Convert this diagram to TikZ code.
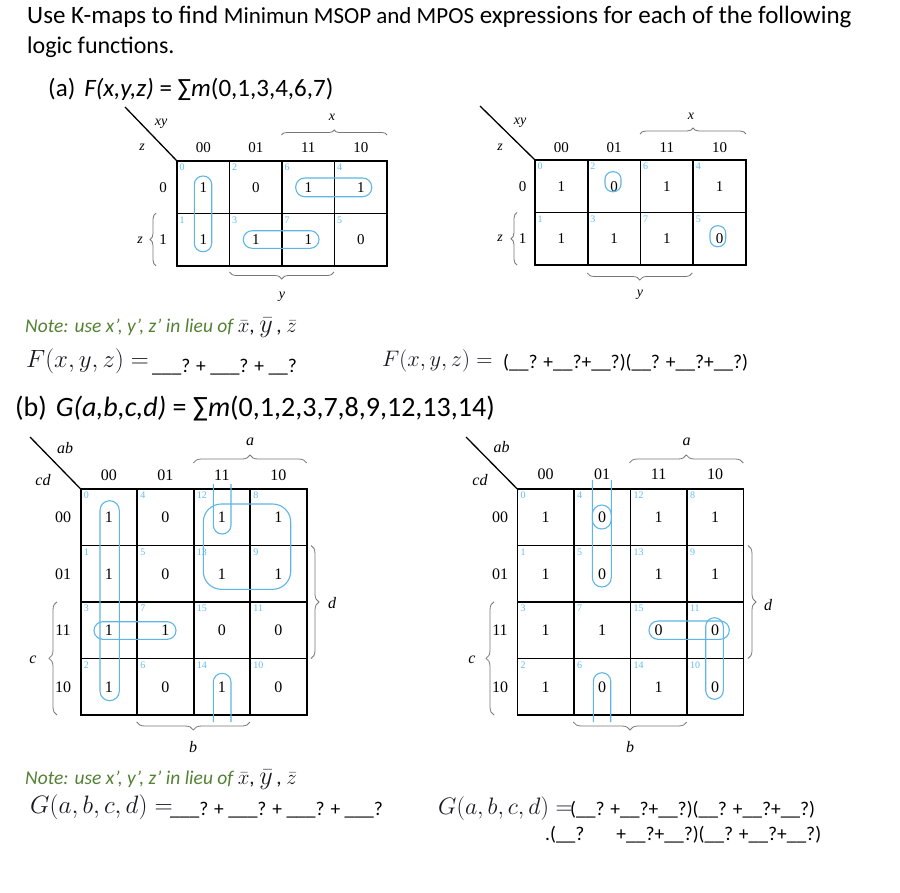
\RequirePackage{fix-cm}
\documentclass[tikz,border=0pt]{standalone}
\usepackage{fontspec}
\setmainfont{Liberation Serif}
\newfontfamily\calib{Carlito}
\usetikzlibrary{decorations.pathreplacing}
\definecolor{kblue}{RGB}{95,182,230}
\definecolor{idxblue}{RGB}{100,190,240}
\definecolor{notegreen}{RGB}{84,130,53}
\definecolor{bracegray}{RGB}{120,120,120}
\definecolor{mathink}{RGB}{25,25,35}
\tikzset{
  gridln/.style={line width=1.6pt},
  diagln/.style={line width=1.3pt},
  grp/.style={draw=kblue, line width=1.1pt},
  valA/.style={font=\fontsize{15}{15}\selectfont, inner sep=0pt},
  valB/.style={font=\fontsize{16}{16}\selectfont, inner sep=0pt},
  idx/.style={text=idxblue, font=\fontsize{10}{10}\selectfont, inner sep=0pt, anchor=north west},
  varA/.style={font=\itshape\fontsize{14}{14}\selectfont, inner sep=0pt},
  varB/.style={font=\itshape\fontsize{16}{16}\selectfont, inner sep=0pt},
  brc/.style={draw=bracegray, line width=0.8pt, decorate, decoration={brace, amplitude=#1}},
  txt/.style={font=\calib\fontsize{25}{25}\selectfont, inner sep=0pt, anchor=base west},
  notetxt/.style={font=\calib\itshape\fontsize{19.5}{19.5}\selectfont, text=notegreen, inner sep=0pt, anchor=base west},
  mathtxt/.style={font=\fontsize{24.9}{24.9}\selectfont, text=mathink, inner sep=0pt, anchor=base west},
  blank/.style={font=\calib\fontsize{19.5}{19.5}\selectfont, inner sep=0pt, anchor=base west},
}
\newcommand\barpart{{\color{mathink}\upshape\fontsize{21}{21}\selectfont$\bar{x}$, \scalebox{1.25}{$\bar{y}$}\,, $\bar{z}$}}
\begin{document}
\begin{tikzpicture}[x=1pt,y=-1pt]
\useasboundingbox (0,0) rectangle (900,892);
\fill[white] (0,0) rectangle (900,892);
% ---------------- header texts ----------------
\node[txt] (t1) at (27,23) {Use K-maps to find {\fontsize{23}{23}\selectfont Minimun MSOP and MPOS} expressions for each of the following};
\node[txt, font=\calib\fontsize{24}{24}\selectfont] (t2) at (27,53) {logic functions.};
\node[txt] (t3) at (48,96) {(a)\hspace{9pt}{\itshape F(x,y,z)} = \char"2211{\itshape m}(0,1,3,4,6,7)};
% ---------------- Map A1 ----------------
\def\mx{177}\def\my{161}\def\mw{52.5}\def\mh{52.4}
\draw[gridln] (\mx,\my) rectangle ({\mx+4*\mw},{\my+2*\mh});
\foreach \i in {1,2,3} \draw[gridln] ({\mx+\i*\mw},\my) -- ({\mx+\i*\mw},{\my+2*\mh});
\draw[gridln] (\mx,{\my+\mh}) -- ({\mx+4*\mw},{\my+\mh});
\foreach \t [count=\k from 0] in {00,01,11,10} \node[valA] (A1h\k) at ({\mx+(\k+0.5)*\mw},148) {\t};
\node[valA] (A1r0) at (163,{\my+0.5*\mh}) {0};
\node[valA] (A1r1) at (163,{\my+1.5*\mh}) {1};
\foreach \r/\c/\n/\v in {0/0/0/1,0/1/2/0,0/2/6/1,0/3/4/1,1/0/1/1,1/1/3/1,1/2/7/1,1/3/5/0}{
  \node[valA] (A1v\n) at ({\mx+(\c+0.5)*\mw},{\my+(\r+0.5)*\mh}) {\v};
  \node[idx] (A1i\n) at ({\mx+\c*\mw+2.5},{\my+\r*\mh+3}) {\n};
}
\coordinate (A1d) at (125,107);
\coordinate (A1c) at (\mx,\my);
\draw[diagln] (A1d) -- (A1c);
\node[varA] (A1xy) at (161,124) {xy};
\node[varA] (A1z) at (142,147) {z};
\draw[brc=5pt] (281.5,135) -- (387,135);
\node[varA] (A1x) at (332,117) {x};
\draw[brc=6pt] (156,265.8) -- (156,213.2);
\node[varA] (A1zz) at (140,240) {z};
\draw[brc=7pt] (334,272) -- (229.5,272);
\node[varA] (A1y) at (282,297) {y};
\draw[grp, rounded corners=8.5pt] (194.3,176) rectangle (211.7,251.7);
\draw[grp, rounded corners=9pt] (295.7,178) rectangle (371.7,196.7);
\draw[grp, rounded corners=8.8pt] (243.3,230.7) rectangle (319,248.3);
% ---------------- Map A2 ----------------
\def\mx{535}\def\my{160}\def\mw{52.75}\def\mh{52.5}
\draw[gridln] (\mx,\my) rectangle ({\mx+4*\mw},{\my+2*\mh});
\foreach \i in {1,2,3} \draw[gridln] ({\mx+\i*\mw},\my) -- ({\mx+\i*\mw},{\my+2*\mh});
\draw[gridln] (\mx,{\my+\mh}) -- ({\mx+4*\mw},{\my+\mh});
\foreach \t [count=\k from 0] in {00,01,11,10} \node[valA] (A2h\k) at ({\mx+(\k+0.5)*\mw},148) {\t};
\node[valA] (A2r0) at (522.7,{\my+0.5*\mh}) {0};
\node[valA] (A2r1) at (522.7,{\my+1.5*\mh}) {1};
\foreach \r/\c/\n/\v in {0/0/0/1,0/1/2/0,0/2/6/1,0/3/4/1,1/0/1/1,1/1/3/1,1/2/7/1,1/3/5/0}{
  \node[valA] (A2v\n) at ({\mx+(\c+0.5)*\mw},{\my+(\r+0.5)*\mh}) {\v};
  \node[idx] (A2i\n) at ({\mx+\c*\mw+2.5},{\my+\r*\mh+3}) {\n};
}
\coordinate (A2d) at (480,106);
\coordinate (A2c) at (\mx,\my);
\draw[diagln] (A2d) -- (A2c);
\node[varA] (A2xy) at (520,123) {xy};
\node[varA] (A2z) at (500,147) {z};
\draw[brc=6pt] (640,134) -- (746,134);
\node[varA] (A2x) at (691,116) {x};
\draw[brc=6pt] (517,265) -- (517,212.5);
\node[varA] (A2zz) at (500,238) {z};
\draw[brc=7pt] (692.3,273) -- (587.3,273);
\node[varA] (A2y) at (640,295) {y};
\draw[grp, rounded corners=7.5pt] (605,171.7) rectangle (621,191.7);
\draw[grp, rounded corners=7.5pt] (710,225.7) rectangle (725.7,246.7);
% ---------------- notes / answers (a) ----------------
\node[notetxt] (n1) at (25,332) {Note: use x’, y’, z’ in lieu of \barpart};
\node[mathtxt] (f1) at (26,367) {$F(x,y,z) =$};
\node[blank] (f1b) at (152,372) {\_\_\_? + \_\_\_? + \_\_?};
\node[mathtxt, font=\fontsize{22.4}{22.4}\selectfont] (f2) at (382,366) {$F(x,y,z) =$};
\node[blank] (f2b) at (503,368) {(\_\_? +\_\_?+\_\_?)(\_\_? +\_\_?+\_\_?)};
% ---------------- (b) heading ----------------
\node[txt, font=\calib\fontsize{28}{28}\selectfont] (t4) at (15,416) {(b)\hspace{9pt}{\itshape G(a,b,c,d)} = \char"2211{\itshape m}(0,1,2,3,7,8,9,12,13,14)};
% ---------------- Map B1 ----------------
\def\mx{80.7}\def\my{489}\def\mw{56.5}\def\mh{56.5}
\draw[gridln] (\mx,\my) rectangle ({\mx+4*\mw},{\my+4*\mh});
\foreach \i in {1,2,3} {
  \draw[gridln] ({\mx+\i*\mw},\my) -- ({\mx+\i*\mw},{\my+4*\mh});
  \draw[gridln] (\mx,{\my+\i*\mh}) -- ({\mx+4*\mw},{\my+\i*\mh});
}
\foreach \t [count=\k from 0] in {00,01,11,10} {
  \node[valB] (B1h\k) at ({\mx+(\k+0.5)*\mw},475) {\t};
  \node[valB] (B1r\k) at (63,{\my+(\k+0.5)*\mh}) {\t};
}
\foreach \r/\c/\n/\v in {0/0/0/1,0/1/4/0,0/2/12/1,0/3/8/1,
                        1/0/1/1,1/1/5/0,1/2/13/1,1/3/9/1,
                        2/0/3/1,2/1/7/1,2/2/15/0,2/3/11/0,
                        3/0/2/1,3/1/6/0,3/2/14/1,3/3/10/0}{
  \node[valB] (B1v\n) at ({\mx+(\c+0.5)*\mw},{\my+(\r+0.5)*\mh}) {\v};
  \node[idx] (B1i\n) at ({\mx+\c*\mw+3},{\my+\r*\mh+3}) {\n};
}
\coordinate (B1d) at (30,437);
\coordinate (B1c) at (\mx,\my);
\draw[diagln] (B1d) -- (B1c);
\node[varB] (B1ab) at (65,448) {ab};
\node[varB] (B1cd) at (43,480) {cd};
\draw[brc=8pt] (193.3,463) -- (306.7,463);
\node[varB] (B1a) at (250,442) {a};
\draw[brc=8pt] (311,545.5) -- (311,658.5);
\node[varB] (B1dd) at (332,603) {d};
\draw[brc=8pt] (57,715) -- (57,601.75);
\node[varB] (B1cc) at (33,660) {c};
\draw[brc=8pt] (250,722) -- (136.7,722);
\node[varB] (B1b) at (193,747) {b};
\draw[grp, rounded corners=9.6pt] (100,500.7) rectangle (119.3,700.7);
\draw[grp, rounded corners=8.8pt] (94,621.7) rectangle (176,639.3);
\draw[grp, rounded corners=18pt] (203.3,504) rectangle (290.7,589.3);
\draw[grp, rounded corners=8.8pt] (213.3,484) -- (213.3,534) -- (231,534) -- (231,484);
\draw[grp, rounded corners=8.8pt] (213.3,722) -- (213.3,673.3) -- (231,673.3) -- (231,722);
% ---------------- Map B2 ----------------
\def\mx{517.3}\def\my{489}\def\mw{56.5}\def\mh{56.5}
\draw[gridln] (\mx,\my) rectangle ({\mx+4*\mw},{\my+4*\mh});
\foreach \i in {1,2,3} {
  \draw[gridln] ({\mx+\i*\mw},\my) -- ({\mx+\i*\mw},{\my+4*\mh});
  \draw[gridln] (\mx,{\my+\i*\mh}) -- ({\mx+4*\mw},{\my+\i*\mh});
}
\foreach \t [count=\k from 0] in {00,01,11,10} {
  \node[valB] (B2h\k) at ({\mx+(\k+0.5)*\mw},474) {\t};
  \node[valB] (B2r\k) at (500,{\my+(\k+0.5)*\mh}) {\t};
}
\foreach \r/\c/\n/\v in {0/0/0/1,0/1/4/0,0/2/12/1,0/3/8/1,
                        1/0/1/1,1/1/5/0,1/2/13/1,1/3/9/1,
                        2/0/3/1,2/1/7/1,2/2/15/0,2/3/11/0,
                        3/0/2/1,3/1/6/0,3/2/14/1,3/3/10/0}{
  \node[valB] (B2v\n) at ({\mx+(\c+0.5)*\mw},{\my+(\r+0.5)*\mh}) {\v};
  \node[idx] (B2i\n) at ({\mx+\c*\mw+3},{\my+\r*\mh+3}) {\n};
}
\coordinate (B2d) at (466,437);
\coordinate (B2c) at (\mx,\my);
\draw[diagln] (B2d) -- (B2c);
\node[varB] (B2ab) at (501.7,447) {ab};
\node[varB] (B2cd) at (480,480) {cd};
\draw[brc=8pt] (629.3,463) -- (743.3,463);
\node[varB] (B2a) at (686.7,442) {a};
\draw[brc=8pt] (748,545.5) -- (748,658.5);
\node[varB] (B2dd) at (768,605) {d};
\draw[brc=8pt] (494,715) -- (494,601.75);
\node[varB] (B2cc) at (472,660) {c};
\draw[brc=8pt] (686.7,722) -- (573.3,722);
\node[varB] (B2b) at (630,747) {b};
\draw[grp, rounded corners=9.5pt] (592.3,505) rectangle (611.3,587);
\draw[grp, rounded corners=9.5pt] (592.3,480) -- (592.3,529) -- (611.3,529) -- (611.3,480);
\draw[grp, rounded corners=8.7pt] (593.3,722) -- (593.3,672.7) -- (610.7,672.7) -- (610.7,722);
\draw[grp, rounded corners=9pt] (649,621) rectangle (729.3,639.3);
\draw[grp, rounded corners=8.8pt] (705.7,617.7) rectangle (723.3,699.3);
% ---------------- notes / answers (b) ----------------
\node[notetxt] (n2) at (25,784) {Note: use x’, y’, z’ in lieu of \barpart};
\node[mathtxt, font=\fontsize{25.2}{25.2}\selectfont] (g1) at (30,813) {$G(a,b,c,d) =$};
\node[blank] (g1b) at (170,815) {\_\_\_? + \_\_\_? + \_\_\_? + \_\_\_?};
\node[mathtxt, font=\fontsize{23.8}{23.8}\selectfont] (g2) at (438,814) {$G(a,b,c,d) =$};
\node[blank] (g2b) at (570,815) {(\_\_? +\_\_?+\_\_?)(\_\_? +\_\_?+\_\_?)};
\node[blank] (g2c) at (545,840) {.(\_\_?\hspace{32pt}+\_\_?+\_\_?)(\_\_? +\_\_?+\_\_?)};
\end{tikzpicture}
\end{document}
